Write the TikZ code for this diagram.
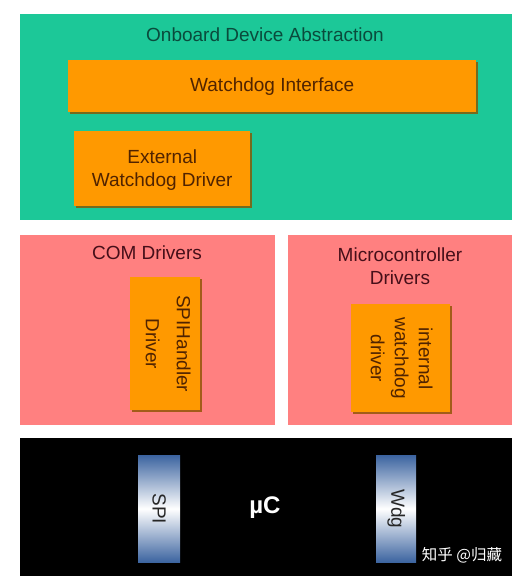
\documentclass[tikz,border=0pt]{standalone}
\usepackage{fontspec}
\setmainfont{Liberation Sans}
\newfontfamily\cjk{Noto Sans CJK SC}
\usetikzlibrary{shadows}
\definecolor{layergreen}{RGB}{28,200,152}
\definecolor{layerpink}{RGB}{255,128,128}
\definecolor{modorange}{RGB}{255,153,0}
\definecolor{pinblue}{RGB}{60,100,160}
\definecolor{greentext}{RGB}{10,75,60}
\definecolor{pinktext}{RGB}{70,15,25}
\definecolor{orangetext}{RGB}{80,35,0}
\tikzset{
  layer/.style={draw=none, anchor=north west, inner sep=0pt},
  modbox/.style={fill=modorange, draw=none, anchor=north west, inner sep=0pt,
     drop shadow={shadow xshift=2pt, shadow yshift=-2pt, fill=black!45!modorange, opacity=0.8}},
  pin/.style={draw=none, anchor=north west, inner sep=0pt, top color=pinblue, bottom color=pinblue, middle color=white},
  ltext/.style={font=\fontsize{19}{23}\selectfont, text=greentext, align=center},
  ptext/.style={font=\fontsize{19}{23}\selectfont, text=pinktext, align=center},
  otext/.style={font=\fontsize{19}{23}\selectfont, text=orangetext, align=center},
  pintext/.style={font=\fontsize{19}{23}\selectfont, text=black!85, rotate=-90},
}
\begin{document}
\begin{tikzpicture}[x=1pt,y=-1pt]
\useasboundingbox[fill=white] (0,0) rectangle (517,579);
% layers
\node[layer, fill=layergreen, minimum width=492pt, minimum height=206pt] (oda) at (20,14) {};
\node[layer, fill=layerpink, minimum width=255pt, minimum height=190pt] (com) at (20,235) {};
\node[layer, fill=layerpink, minimum width=224pt, minimum height=190pt] (mcu) at (288,235) {};
\node[layer, fill=black, minimum width=492pt, minimum height=138pt] (uc) at (20,438) {};
% titles
\node[ltext] (odat) at (265,35) {Onboard Device Abstraction};
\node[ptext] (comt) at (147,253) {COM Drivers};
\node[ptext] (mcut) at (400,266) {Microcontroller\\Drivers};
% modules
\node[modbox, minimum width=408pt, minimum height=52pt] (wdi) at (68,60) {};
\node[otext] at (wdi.center) {Watchdog Interface};
\node[modbox, minimum width=176pt, minimum height=75pt] (ewd) at (74,131) {};
\node[otext] at ([yshift=-1pt]ewd.center) {External\\Watchdog Driver};
\node[modbox, minimum width=70pt, minimum height=133pt] (spih) at (130,277) {};
\node[otext, rotate=-90, font=\fontsize{19}{31}\selectfont] at ([xshift=3pt]spih.center) {SPIHandler\\Driver};
\node[modbox, minimum width=99pt, minimum height=108pt] (iwd) at (351,304) {};
\node[otext, rotate=-90, font=\fontsize{19}{24}\selectfont] at ([xshift=1pt]iwd.center) {internal\\watchdog\\driver};
% pins
\node[pin, minimum width=42pt, minimum height=107pt] (spi) at (138,455) {};
\node[pintext] at (spi.center) {SPI};
\node[pin, minimum width=40pt, minimum height=107pt] (wdg) at (376,455) {};
\node[pintext] at (wdg.center) {Wdg};
\node[font=\bfseries\fontsize{24}{26}\selectfont, text=white] (muc) at (265,508) {µC};
% watermark
\node[font=\cjk\fontsize{15.5}{17}\selectfont, text=white] (wm) at (462,555) {知乎 @归藏};
\end{tikzpicture}
\end{document}
